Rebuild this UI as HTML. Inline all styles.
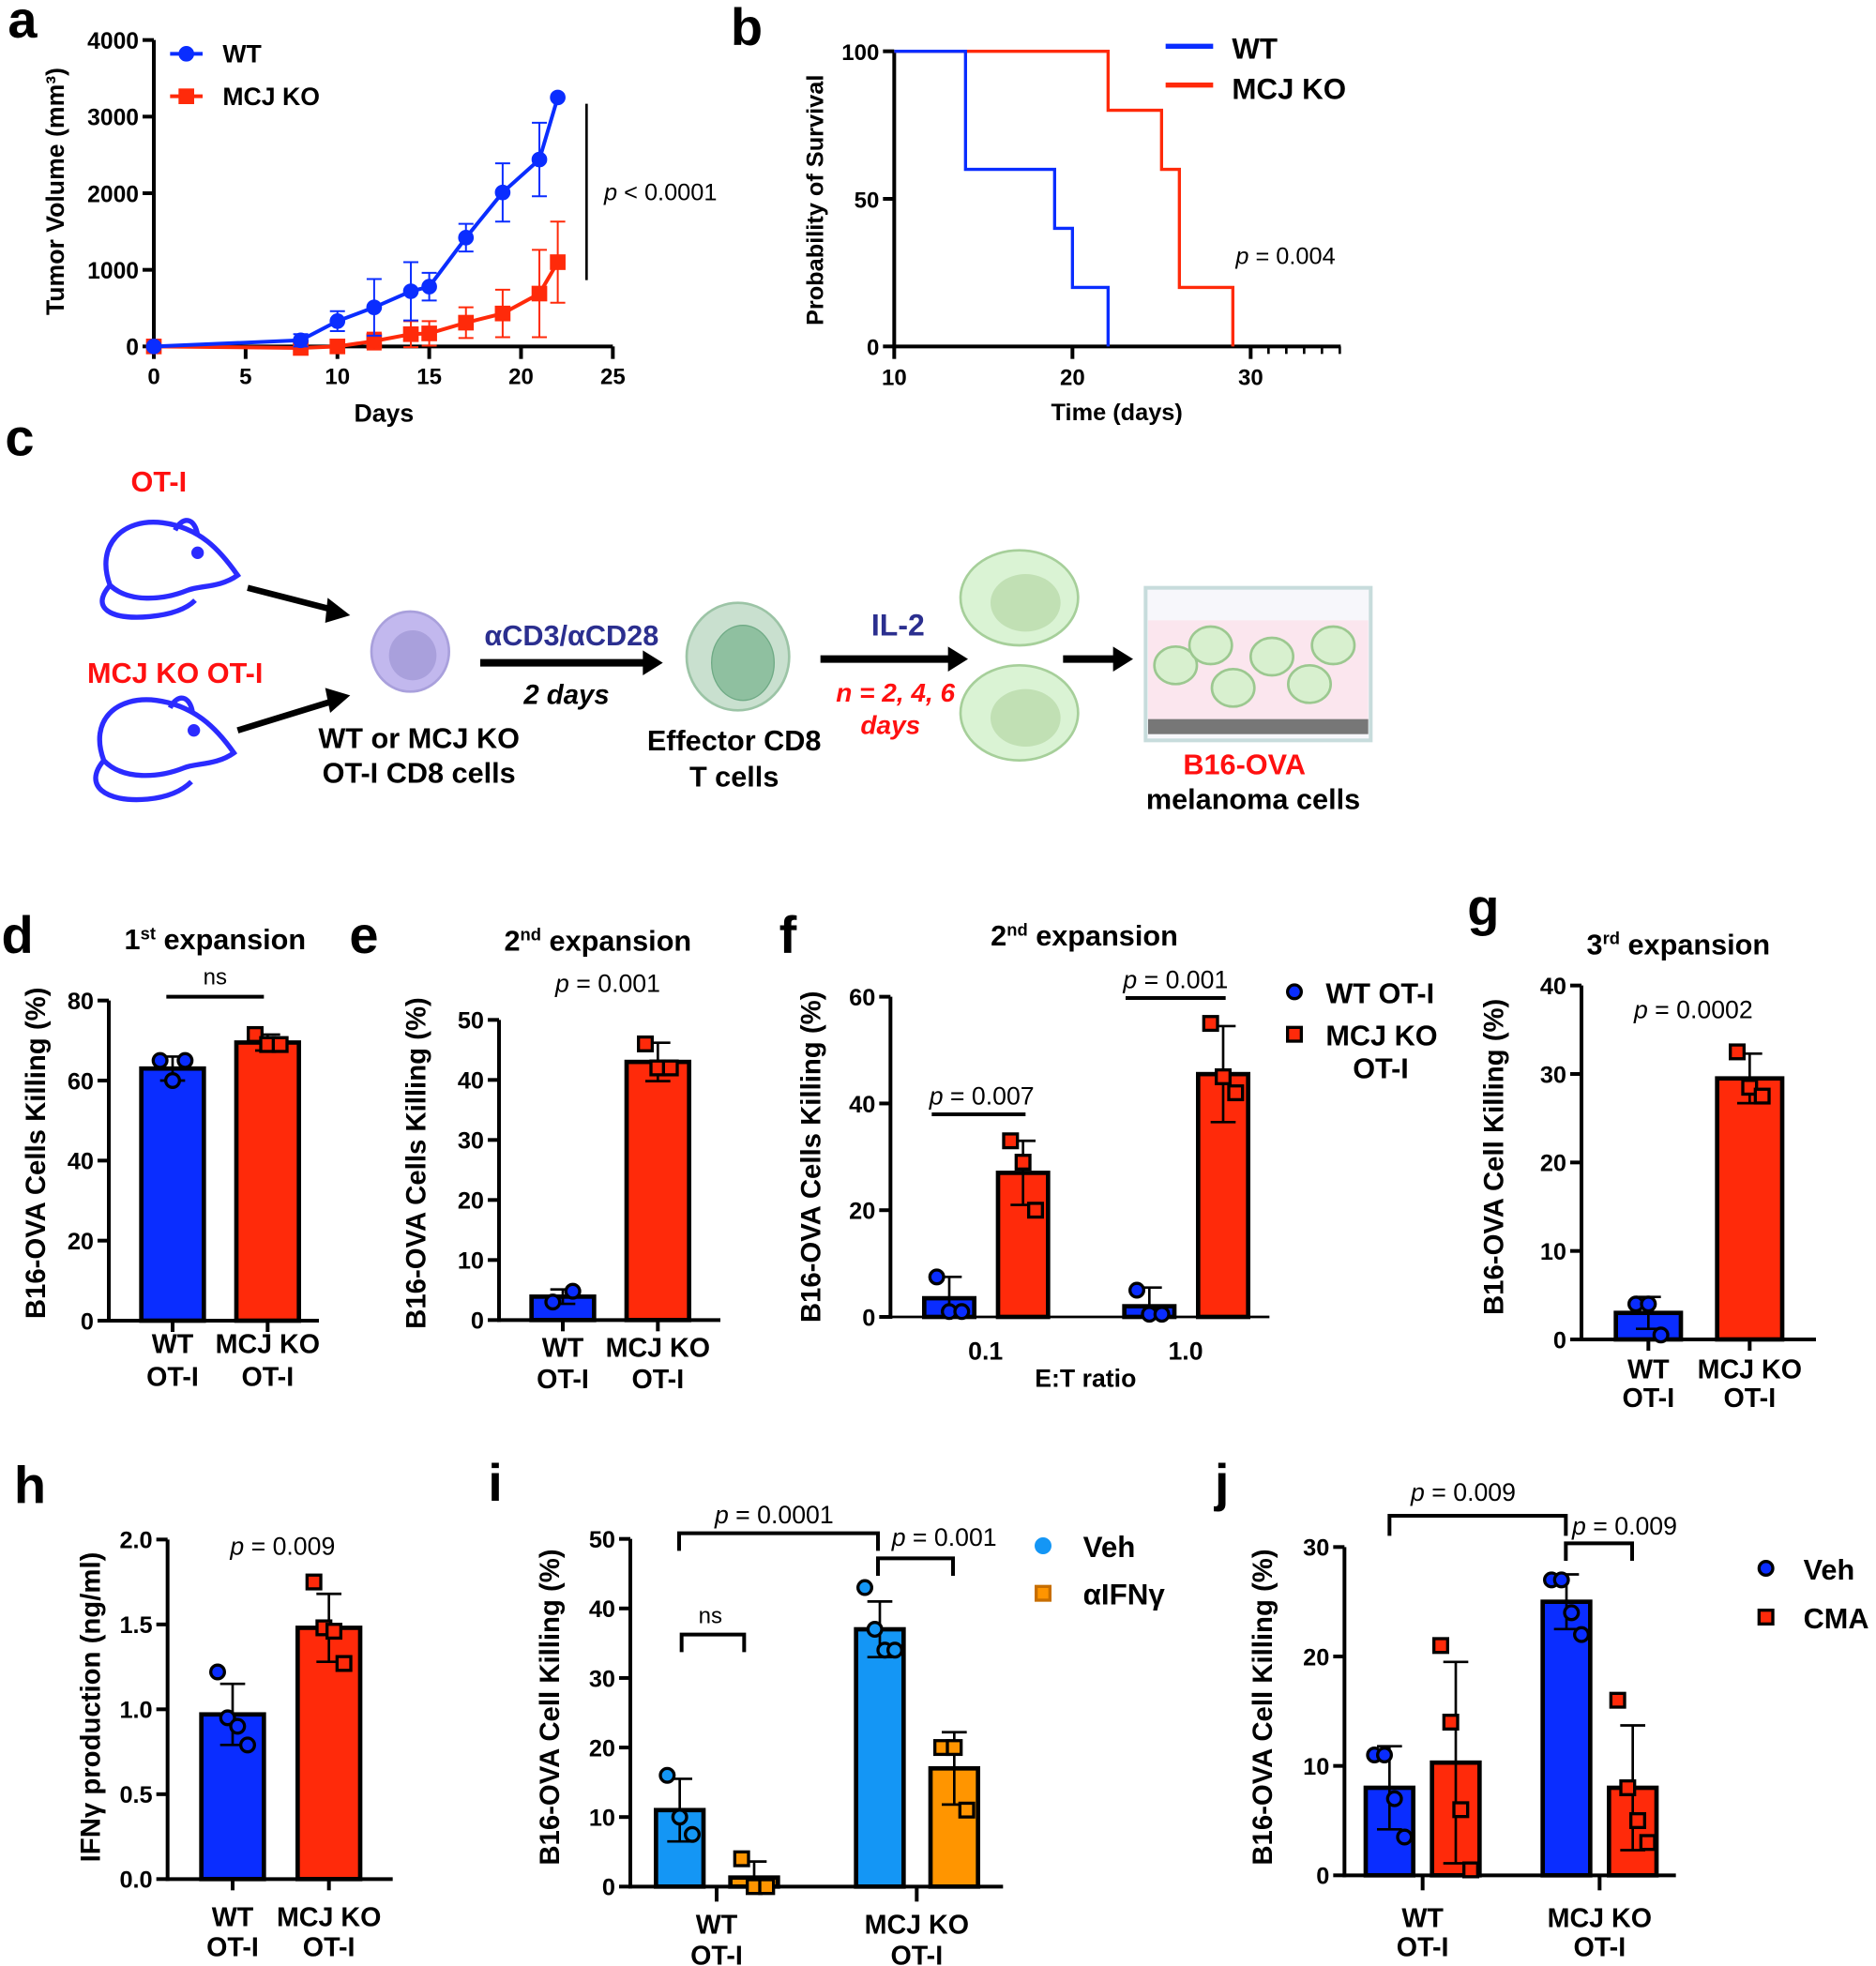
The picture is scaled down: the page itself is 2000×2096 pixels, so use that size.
<!DOCTYPE html>
<html><head><meta charset="utf-8"><style>
html,body{margin:0;padding:0;background:#fff}
svg{display:block}
text{font-family:"Liberation Sans",Arial,sans-serif;font-weight:bold}
</style></head><body>
<svg id="fig" width="2000" height="2096" viewBox="0 0 1500 1572" preserveAspectRatio="none" xmlns="http://www.w3.org/2000/svg">
<g id="diagram">
 <text x="4" y="364" font-size="42">c</text>
 <text x="127" y="393" font-size="23" fill="#ff1010" text-anchor="middle">OT-I</text>
 <text x="140" y="546" font-size="23" fill="#ff1010" text-anchor="middle">MCJ KO OT-I</text>
 <g fill="none" stroke="#2b2bff" stroke-width="4">
  <path d="M88,468 C76,436 98,414 130,418 C160,422 176,440 190,460 C176,470 160,468 150,472 C130,480 103,482 88,468 Z"/>
  <path d="M88,468 C72,486 88,496 120,493 C140,491 150,486 156,480"/>
  <path d="M140,424 C146,412 156,414 158,428"/>
  <circle cx="158" cy="442" r="3" fill="#2b2bff"/>
 </g>
 <g fill="none" stroke="#2b2bff" stroke-width="4">
  <path d="M83,608 C71,576 93,556 125,560 C155,564 173,582 187,602 C173,612 157,610 147,614 C127,622 98,624 83,608 Z"/>
  <path d="M83,608 C66,628 84,642 118,639 C138,637 148,630 153,625"/>
  <path d="M136,566 C142,554 152,556 154,570"/>
  <circle cx="155" cy="584" r="3" fill="#2b2bff"/>
 </g>
 <line x1="198" y1="470" x2="268" y2="488" stroke="#000" stroke-width="5"/>
 <polygon points="280,492 262,478 260,498"/>
 <line x1="190" y1="584" x2="268" y2="560" stroke="#000" stroke-width="5"/>
 <polygon points="280,556 260,550 264,570"/>
 <ellipse cx="328" cy="521" rx="31" ry="32" fill="#c2b8ee" stroke="#a9a0dc" stroke-width="2"/>
 <ellipse cx="330" cy="524" rx="19" ry="20" fill="#a9a0dc"/>
 <text x="457" y="516" font-size="23" fill="#2b2f8f" text-anchor="middle">αCD3/αCD28</text>
 <line x1="384" y1="530" x2="516" y2="530" stroke="#000" stroke-width="6"/>
 <polygon points="530,530 514,520 514,540"/>
 <text x="453" y="563" font-size="22" font-style="italic" text-anchor="middle">2 days</text>
 <text x="335" y="598" font-size="23" text-anchor="middle">WT or MCJ KO</text>
 <text x="335" y="626" font-size="23" text-anchor="middle">OT-I CD8 cells</text>
 <ellipse cx="590" cy="525" rx="41" ry="43" fill="#c9e0cf" stroke="#9cc4a6" stroke-width="2"/>
 <ellipse cx="594" cy="530" rx="25" ry="30" fill="#8fc0a0" stroke="#6faa85"/>
 <text x="587" y="600" font-size="23" text-anchor="middle">Effector CD8</text>
 <text x="587" y="629" font-size="23" text-anchor="middle">T cells</text>
 <text x="718" y="508" font-size="24" fill="#2b2f8f" text-anchor="middle">IL-2</text>
 <line x1="656" y1="527" x2="760" y2="527" stroke="#000" stroke-width="6"/>
 <polygon points="774,527 758,517 758,537"/>
 <text x="716" y="561" font-size="21" font-style="italic" fill="#ff1010" text-anchor="middle">n = 2, 4, 6</text>
 <text x="712" y="587" font-size="21" font-style="italic" fill="#ff1010" text-anchor="middle">days</text>
 <ellipse cx="815" cy="478" rx="47" ry="38" fill="#daf3d4" stroke="#a6cf9a" stroke-width="2"/>
 <ellipse cx="820" cy="482" rx="28" ry="23" fill="#c1e0b4"/>
 <ellipse cx="815" cy="570" rx="47" ry="38" fill="#daf3d4" stroke="#a6cf9a" stroke-width="2"/>
 <ellipse cx="820" cy="574" rx="28" ry="23" fill="#c1e0b4"/>
 <line x1="850" y1="527" x2="892" y2="527" stroke="#000" stroke-width="6"/>
 <polygon points="906,527 890,517 890,537"/>
 <g>
  <rect x="916" y="470" width="180" height="122" fill="#f7f7fb" stroke="#c7dcdc" stroke-width="3"/>
  <rect x="918" y="496" width="176" height="82" fill="#fbe6ee"/>
  <rect x="918" y="575" width="176" height="12" fill="#777"/>
  <g fill="#d8f0cf" stroke="#9cc890" stroke-width="2">
   <ellipse cx="940" cy="532" rx="17" ry="15"/><ellipse cx="968" cy="516" rx="17" ry="15"/>
   <ellipse cx="1017" cy="525" rx="17" ry="15"/><ellipse cx="1066" cy="516" rx="17" ry="15"/>
   <ellipse cx="986" cy="550" rx="17" ry="15"/><ellipse cx="1047" cy="547" rx="17" ry="15"/>
  </g>
 </g>
 <text x="995" y="619" font-size="23" fill="#ff1010" text-anchor="middle">B16-OVA</text>
 <text x="1002" y="647" font-size="23" text-anchor="middle">melanoma cells</text>
</g>
</svg>
<script>
// ---------- DATA ----------
// Panel a
const aDays = [0, 8, 10, 12, 14, 15, 17, 19, 21, 22];
const aWT = [0, 80, 330, 510, 720, 780, 1420, 2010, 2440, 3250];
const aWTerr = [0, 80, 130, 370, 380, 180, 180, 380, 480, 0];
const aKO = [0, -20, 0, 70, 160, 170, 310, 430, 690, 1100];
const aKOerr = [0, 0, 0, 110, 170, 160, 200, 310, 570, 530];
const aXTicks = [0, 5, 10, 15, 20, 25];
const aYTicks = [0, 1000, 2000, 3000, 4000];
// Panel b (survival steps)
const bWTtimes = [10, 14, 19, 20, 22];
const bWTsurv = [100, 60, 40, 20, 0];
const bKOtimes = [10, 22, 25, 26, 29];
const bKOsurv = [100, 80, 60, 20, 0];
const bXTicks = [10, 20, 30];
const bYTicks = [0, 50, 100];
// Panel d
const dGroups = ['WT', 'MCJ KO'];
const dMeans = [63, 69.5];
const dErr = [3, 2];
const dPts = [[65, 60, 65], [71.5, 69, 69]];
const dTicks = [0, 20, 40, 60, 80];
// Panel e
const eMeans = [3.9, 43];
const eErr = [1.2, 3.2];
const ePts = [[3, 4.8], [46, 42, 42]];
const eTicks = [0, 10, 20, 30, 40, 50];
// Panel f
const fRatios = ['0.1', '1.0'];
const fWT = [3.5, 2];
const fWTerr = [4, 3.5];
const fWTpts = [[7.5, 1, 1], [5, 0.5, 0.5]];
const fKO = [27, 45.5];
const fKOerr = [6, 9];
const fKOpts = [[33, 29, 20], [55, 45, 42]];
const fTicks = [0, 20, 40, 60];
// Panel g
const gMeans = [3, 29.5];
const gErr = [1.8, 2.8];
const gPts = [[4, 4, 0.5], [32.5, 28.5, 27.5]];
const gTicks = [0, 10, 20, 30, 40];
// Panel h
const hMeans = [0.97, 1.48];
const hErr = [0.18, 0.2];
const hPts = [[1.22, 0.95, 0.9, 0.79], [1.75, 1.48, 1.46, 1.27]];
const hTicks = [0, 0.5, 1.0, 1.5, 2.0];
const hTickLabels = ['0.0', '0.5', '1.0', '1.5', '2.0'];
// Panel i
const iVeh = [11, 37];
const iVehErr = [4.5, 4];
const iVehPts = [[16, 10, 7.5], [43, 37, 34, 34]];
const iIFN = [1.3, 17];
const iIFNerr = [2.3, 5.2];
const iIFNpts = [[4, 0, 0], [20, 20, 11]];
const iTicks = [0, 10, 20, 30, 40, 50];
// Panel j
const jVeh = [8, 25];
const jVehErr = [3.8, 2.5];
const jVehPts = [[11, 11, 7, 3.5], [27, 27, 24, 22]];
const jCMA = [10.3, 8];
const jCMAerr = [9.2, 5.7];
const jCMApts = [[21, 14, 6, 0.5], [16, 8, 5, 3]];
const jTicks = [0, 10, 20, 30];

// ---------- HELPERS ----------
const NS = 'http://www.w3.org/2000/svg';
const svg = document.getElementById('fig');
const BLUE = '#0a2dff', RED = '#ff2a0a', LBLUE = '#1496f5', ORANGE = '#ff9500';
const TICK = 19, YT = 22, XL = 21.5;
function mk(tag, attrs, name, parent) {
  const e = document.createElementNS(NS, tag);
  for (const k in attrs) e.setAttribute(k, attrs[k]);
  
  
  (parent || svg).appendChild(e);
  return e;
}
function line(x1, y1, x2, y2, name, w, c) {
  return mk('line', {x1, y1, x2, y2, stroke: c || '#000', 'stroke-width': w || 3}, name);
}
function txt(x, y, s, size, name, anchor, extra) {
  const a = Object.assign({x, y, 'font-size': size, 'text-anchor': anchor || 'middle'}, extra || {});
  const t = mk('text', a, name);
  t.textContent = s;
  return t;
}
function ptxt(x, y, rest, size, name, anchor) {
  const t = mk('text', {x, y, 'font-size': size, 'text-anchor': anchor || 'middle', style: 'font-weight:normal'}, name);
  const p = document.createElementNS(NS, 'tspan');
  p.setAttribute('font-style', 'italic');
  p.textContent = 'p';
  t.appendChild(p);
  t.appendChild(document.createTextNode(rest));
  return t;
}
function vlabel(x, y, s, size, name) {
  return txt(x, y, s, size, name, 'middle', {transform: `rotate(-90 ${x} ${y})`});
}
function sup(x, y, a, b, c, size, name) {
  const t = mk('text', {x, y, 'font-size': size, 'text-anchor': 'middle'}, name);
  t.appendChild(document.createTextNode(a));
  const s = document.createElementNS(NS, 'tspan');
  s.setAttribute('font-size', size * 0.6);
  s.setAttribute('dy', -8);
  s.textContent = b;
  t.appendChild(s);
  const r = document.createElementNS(NS, 'tspan');
  r.setAttribute('dy', 8);
  r.textContent = c;
  t.appendChild(r);
  return t;
}
function marker(x, y, shape, fill, name, r, stroke) {
  r = r || 6;
  if (shape === 'c') return mk('circle', {cx: x, cy: y, r, fill, stroke: stroke || '#000', 'stroke-width': 2.5}, name);
  return mk('rect', {x: x - r, y: y - r, width: 2 * r, height: 2 * r, fill, stroke: stroke || '#000', 'stroke-width': 2.5}, name);
}
function yaxis(x, y0, yTop, ticks, scale, labels, name, size) {
  line(x, y0 + 1.5, x, yTop, name + '-y-axis');
  ticks.forEach((t, i) => {
    const yy = scale(t);
    line(x - 9, yy, x, yy, name + '-y-tick');
    txt(x - 12, yy + 7, labels ? labels[i] : String(t), size || TICK, name + '-y-tick-label', 'end');
  });
}
function bar(cx, w, y0, yv, color, name) {
  return mk('rect', {x: cx - w / 2, y: Math.min(yv, y0), width: w, height: Math.abs(y0 - yv), fill: color, stroke: '#000', 'stroke-width': 3.5}, name);
}
function errbar(cx, ym, ye1, ye2, name, cw) {
  cw = cw || 10;
  line(cx, ye1, cx, ye2, name, 2);
  line(cx - cw, ye1, cx + cw, ye1, name + '-cap', 2);
  line(cx - cw, ye2, cx + cw, ye2, name + '-cap', 2);
}
const OFFS = {1: [0], 2: [-8, 8], 3: [-10, 0, 10], 4: [-12, -4, 4, 12]};
function pts(cx, vals, scale, shape, color, name) {
  const o = OFFS[vals.length];
  vals.forEach((v, i) => marker(cx + o[i], scale(v), shape, color, name, 5.5));
}
function bracket(x1, x2, y, drop, name) {
  mk('path', {d: `M${x1},${y + drop} V${y} H${x2} V${y + drop}`, fill: 'none', stroke: '#000', 'stroke-width': 3}, name);
}

// ---------- PANEL A ----------
(function () {
  const X = d => 123 + d * 14.68, Y = v => 277 - v * 0.06125;
  txt(18, 30, 'a', 42, 'panel-label-a', 'middle');
  yaxis(123, 277, 32, aYTicks, Y, null, 'panel-a', 18.5);
  line(121.5, 277, 490, 277, 'panel-a-x-axis');
  aXTicks.forEach(t => { line(X(t), 277, X(t), 287, 'panel-a-x-tick'); txt(X(t), 307, String(t), 18, 'panel-a-x-tick-label'); });
  txt(307, 337, 'Days', 20, 'panel-a-x-axis-title');
  vlabel(51, 153, 'Tumor Volume (mm³)', 20, 'panel-a-y-axis-title');
  [[aKO, aKOerr, RED, 's', 'ko'], [aWT, aWTerr, BLUE, 'c', 'wt']].forEach(([m, e, c, sh, nm]) => {
    aDays.forEach((d, i) => {
      if (e[i] > 0) {
        line(X(d), Y(m[i] - e[i]), X(d), Y(m[i] + e[i]), 'panel-a-errbar-' + nm, 1.5, c);
        line(X(d) - 6, Y(m[i] + e[i]), X(d) + 6, Y(m[i] + e[i]), 'panel-a-errcap-' + nm, 1.5, c);
        line(X(d) - 6, Y(m[i] - e[i]), X(d) + 6, Y(m[i] - e[i]), 'panel-a-errcap-' + nm, 1.5, c);
      }
    });
    mk('polyline', {points: aDays.map((d, i) => X(d) + ',' + Y(m[i])).join(' '), fill: 'none', stroke: c, 'stroke-width': 3}, 'panel-a-line-' + nm);
    aDays.forEach((d, i) => marker(X(d), Y(m[i]), sh, c, 'panel-a-point-' + nm, 5, c));
  });
  line(136, 43, 162, 43, 'legend-a-wt-line', 3, BLUE); marker(149, 43, 'c', BLUE, 'legend-a-wt-marker', 5, BLUE);
  txt(178, 50, 'WT', 20, 'legend-a-wt-label', 'start');
  line(136, 77, 162, 77, 'legend-a-ko-line', 3, RED); marker(149, 77, 's', RED, 'legend-a-ko-marker', 5, RED);
  txt(178, 84, 'MCJ KO', 20, 'legend-a-ko-label', 'start');
  line(469, 83, 469, 224, 'panel-a-significance-bar', 2);
  ptxt(483, 160, ' < 0.0001', 19, 'panel-a-p-value', 'start');
})();

// ---------- PANEL B ----------
(function () {
  const X = d => 715 + (d - 10) * 14.25, Y = v => 277 - v * 2.36;
  txt(597, 36, 'b', 42, 'panel-label-b');
  yaxis(715, 277, 41, bYTicks, Y, null, 'panel-b', 18);
  line(713.5, 277, 1072, 277, 'panel-b-x-axis');
  bXTicks.forEach(t => { line(X(t), 277, X(t), 287, 'panel-b-x-tick'); txt(X(t), 308, String(t), 18, 'panel-b-x-tick-label'); });
  for (let d = 31; d <= 35; d++) line(X(d), 277, X(d), 283, 'panel-b-x-minor-tick', 2);
  txt(893, 336, 'Time (days)', 19, 'panel-b-x-axis-title');
  vlabel(658, 160, 'Probability of Survival', 19, 'panel-b-y-axis-title');
  function steps(t, s) {
    let d = `M${X(t[0])},${Y(s[0])}`;
    for (let i = 1; i < t.length; i++) d += ` H${X(t[i])} V${Y(s[i])}`;
    return d;
  }
  mk('path', {d: steps(bKOtimes, bKOsurv), fill: 'none', stroke: RED, 'stroke-width': 2.5}, 'panel-b-ko-curve');
  mk('path', {d: steps(bWTtimes, bWTsurv), fill: 'none', stroke: BLUE, 'stroke-width': 2.5}, 'panel-b-wt-curve');
  line(932, 37, 970, 37, 'legend-b-wt-line', 4, BLUE); txt(985, 47, 'WT', 23.5, 'legend-b-wt-label', 'start');
  line(932, 68, 970, 68, 'legend-b-ko-line', 4, RED); txt(985, 79, 'MCJ KO', 23.5, 'legend-b-ko-label', 'start');
  ptxt(988, 211, ' = 0.004', 19, 'panel-b-p-value', 'start');
})();

// ---------- generic 2-bar panel ----------
function twoBar(o) {
  const Y = v => o.y0 - v * o.ppu;
  txt(o.lx, o.ly, o.letter, 42, 'panel-label-' + o.letter);
  yaxis(o.ax, o.y0, o.yTop, o.ticks, Y, o.tickLabels, 'panel-' + o.letter, TICK);
  line(o.ax - 1.5, o.y0, o.xEnd, o.y0, 'panel-' + o.letter + '-x-axis', 3);
  const colors = [BLUE, RED], shapes = ['c', 's'];
  o.cx.forEach((cx, i) => {
    bar(cx, o.w, o.y0, Y(o.means[i]), colors[i], 'panel-' + o.letter + '-bar-' + (i ? 'ko' : 'wt'));
    errbar(cx, Y(o.means[i]), Y(o.means[i] + o.err[i]), Y(Math.max(0, o.means[i] - o.err[i])), 'panel-' + o.letter + '-errbar');
    pts(cx, o.pts[i], Y, shapes[i], colors[i], 'panel-' + o.letter + '-point');
    line(cx, o.y0, cx, o.y0 + 9, 'panel-' + o.letter + '-x-tick');
    txt(cx, o.xl1, o.lab1[i], XL, 'panel-' + o.letter + '-x-label');
    txt(cx, o.xl2, 'OT-I', XL, 'panel-' + o.letter + '-x-label-2');
  });
  vlabel(o.ylx, o.yly, o.ytitle, YT, 'panel-' + o.letter + '-y-axis-title');
}
twoBar({letter: 'd', lx: 14, ly: 762, ax: 87, y0: 1056, yTop: 800, ppu: 3.2, ticks: dTicks, xEnd: 255,
  cx: [138, 214], w: 50, means: dMeans, err: dErr, pts: dPts, xl1: 1082, xl2: 1108, lab1: ['WT', 'MCJ KO'],
  ylx: 36, yly: 922, ytitle: 'B16-OVA Cells Killing (%)'});
sup(172, 759, '1', 'st', ' expansion', 23, 'panel-d-title');
line(133, 797, 211, 797, 'panel-d-ns-line', 3);
txt(172, 787, 'ns', 18, 'panel-d-ns-label', 'middle', {style: 'font-weight:normal'});

twoBar({letter: 'e', lx: 291, ly: 762, ax: 399, y0: 1055.5, yTop: 815.5, ppu: 4.8, ticks: eTicks, xEnd: 576,
  cx: [450, 526], w: 50, means: eMeans, err: eErr, pts: ePts, xl1: 1085, xl2: 1110, lab1: ['WT', 'MCJ KO'],
  ylx: 340, yly: 930, ytitle: 'B16-OVA Cells Killing (%)'});
sup(478, 760, '2', 'nd', ' expansion', 23, 'panel-e-title');
ptxt(486, 793, ' = 0.001', 20, 'panel-e-p-value');

twoBar({letter: 'g', lx: 1186, ly: 740, ax: 1264.5, y0: 1071, yTop: 788, ppu: 7.075, ticks: gTicks, xEnd: 1452,
  cx: [1318, 1399], w: 52, means: gMeans, err: gErr, pts: gPts, xl1: 1102, xl2: 1125, lab1: ['WT', 'MCJ KO'],
  ylx: 1202, yly: 925, ytitle: 'B16-OVA Cell Killing (%)'});
sup(1342, 763, '3', 'rd', ' expansion', 23, 'panel-g-title');
ptxt(1354, 814, ' = 0.0002', 20, 'panel-g-p-value');

twoBar({letter: 'h', lx: 24, ly: 1202, ax: 134, y0: 1502.5, yTop: 1231, ppu: 135.75, ticks: hTicks, tickLabels: hTickLabels, xEnd: 314,
  cx: [186, 263], w: 50, means: hMeans, err: hErr, pts: hPts, xl1: 1540, xl2: 1564, lab1: ['WT', 'MCJ KO'],
  ylx: 80, yly: 1365, ytitle: 'IFNγ production (ng/ml)'});
ptxt(226, 1243, ' = 0.009', 20, 'panel-h-p-value');

// ---------- PANEL F ----------
(function () {
  const y0 = 1053, Y = v => y0 - v * 4.267;
  txt(630, 762, 'f', 42, 'panel-label-f');
  yaxis(712, y0, 797, fTicks, Y, null, 'panel-f', TICK);
  line(710.5, y0, 1015, y0, 'panel-f-x-axis', 2);
  const centers = [788, 948];
  fRatios.forEach((r, i) => {
    const cw = centers[i] - 29, ck = centers[i] + 30;
    bar(cw, 40, y0, Y(fWT[i]), BLUE, 'panel-f-bar-wt');
    errbar(cw, 0, Y(fWT[i] + fWTerr[i]), Y(Math.max(0, fWT[i] - fWTerr[i])), 'panel-f-errbar');
    pts(cw, fWTpts[i], Y, 'c', BLUE, 'panel-f-point-wt');
    bar(ck, 40, y0, Y(fKO[i]), RED, 'panel-f-bar-ko');
    errbar(ck, 0, Y(fKO[i] + fKOerr[i]), Y(fKO[i] - fKOerr[i]), 'panel-f-errbar');
    pts(ck, fKOpts[i], Y, 's', RED, 'panel-f-point-ko');
    txt(centers[i], 1087, r, 20, 'panel-f-x-label');
  });
  txt(868, 1109, 'E:T ratio', 20, 'panel-f-x-axis-title');
  sup(867, 756, '2', 'nd', ' expansion', 23, 'panel-f-title');
  line(745, 891, 820, 891, 'panel-f-sig-line-01', 3); ptxt(785, 883, ' = 0.007', 20, 'panel-f-p-value-01');
  line(900, 798, 980, 798, 'panel-f-sig-line-10', 3); ptxt(940, 790, ' = 0.001', 20, 'panel-f-p-value-10');
  marker(1035, 793, 'c', BLUE, 'legend-f-wt-marker', 5.5);
  txt(1060, 802, 'WT OT-I', 23, 'legend-f-wt-label', 'start');
  marker(1035, 827, 's', RED, 'legend-f-ko-marker', 5.5);
  txt(1060, 836, 'MCJ KO', 23, 'legend-f-ko-label', 'start');
  txt(1104, 862, 'OT-I', 23, 'legend-f-ko-label-2');
  vlabel(656, 925, 'B16-OVA Cells Killing (%)', YT, 'panel-f-y-axis-title');
})();

// ---------- PANEL I ----------
(function () {
  const y0 = 1508.5, Y = v => y0 - v * 5.56;
  txt(396, 1200, 'i', 42, 'panel-label-i');
  yaxis(504, y0, 1230.5, iTicks, Y, null, 'panel-i', TICK);
  line(502.5, y0, 802, y0, 'panel-i-x-axis', 3);
  const centers = [573, 733], labs = ['WT', 'MCJ KO'];
  centers.forEach((c, i) => {
    const cv = c - 29.5, ci = c + 30;
    bar(cv, 38, y0, Y(iVeh[i]), LBLUE, 'panel-i-bar-veh');
    errbar(cv, 0, Y(iVeh[i] + iVehErr[i]), Y(Math.max(0, iVeh[i] - iVehErr[i])), 'panel-i-errbar');
    pts(cv, iVehPts[i], Y, 'c', LBLUE, 'panel-i-point-veh');
    bar(ci, 38, y0, Y(iIFN[i]), ORANGE, 'panel-i-bar-aifng');
    errbar(ci, 0, Y(iIFN[i] + iIFNerr[i]), Y(Math.max(0, iIFN[i] - iIFNerr[i])), 'panel-i-errbar');
    pts(ci, iIFNpts[i], Y, 's', ORANGE, 'panel-i-point-aifng');
    line(c, y0, c, y0 + 12, 'panel-i-x-tick');
    txt(c, 1546, labs[i], XL, 'panel-i-x-label');
    txt(c, 1571, 'OT-I', XL, 'panel-i-x-label-2');
  });
  bracket(543, 702, 1226, 14, 'panel-i-bracket-veh');
  ptxt(619, 1218, ' = 0.0001', 20, 'panel-i-p-value-veh');
  bracket(702, 762, 1246, 14, 'panel-i-bracket-ko');
  ptxt(755, 1236, ' = 0.001', 20, 'panel-i-p-value-ko');
  bracket(545, 595, 1307, 14, 'panel-i-bracket-wt');
  txt(568, 1298, 'ns', 18, 'panel-i-ns-label', 'middle', {style: 'font-weight:normal'});
  marker(834, 1236, 'c', LBLUE, 'legend-i-veh-marker', 5.5, LBLUE);
  txt(866, 1245, 'Veh', 23.5, 'legend-i-veh-label', 'start');
  marker(834, 1274, 's', ORANGE, 'legend-i-aifng-marker', 5.5, '#c76e00');
  txt(866, 1283, 'αIFNγ', 23.5, 'legend-i-aifng-label', 'start');
  vlabel(447, 1365, 'B16-OVA Cell Killing (%)', YT, 'panel-i-y-axis-title');
})();

// ---------- PANEL J ----------
(function () {
  const y0 = 1499.5, Y = v => y0 - v * 8.75;
  txt(977, 1200, 'j', 42, 'panel-label-j');
  yaxis(1075, y0, 1237, jTicks, Y, null, 'panel-j', TICK);
  line(1073.5, y0, 1340, y0, 'panel-j-x-axis', 3);
  const centers = [1137.5, 1279], labs = ['WT', 'MCJ KO'];
  centers.forEach((c, i) => {
    const cv = c - 26.5, cc = c + 26.5;
    bar(cv, 38, y0, Y(jVeh[i]), BLUE, 'panel-j-bar-veh');
    errbar(cv, 0, Y(jVeh[i] + jVehErr[i]), Y(Math.max(0, jVeh[i] - jVehErr[i])), 'panel-j-errbar');
    pts(cv, jVehPts[i], Y, 'c', BLUE, 'panel-j-point-veh');
    bar(cc, 38, y0, Y(jCMA[i]), RED, 'panel-j-bar-cma');
    errbar(cc, 0, Y(jCMA[i] + jCMAerr[i]), Y(Math.max(0, jCMA[i] - jCMAerr[i])), 'panel-j-errbar');
    pts(cc, jCMApts[i], Y, 's', RED, 'panel-j-point-cma');
    line(c, y0, c, y0 + 12, 'panel-j-x-tick');
    txt(c, 1541, labs[i], XL, 'panel-j-x-label');
    txt(c, 1564, 'OT-I', XL, 'panel-j-x-label-2');
  });
  bracket(1111, 1252, 1212, 16, 'panel-j-bracket-veh');
  ptxt(1170, 1200, ' = 0.009', 20, 'panel-j-p-value-veh');
  bracket(1252, 1305, 1234, 14, 'panel-j-bracket-ko');
  ptxt(1299, 1227, ' = 0.009', 20, 'panel-j-p-value-ko');
  marker(1412, 1254, 'c', BLUE, 'legend-j-veh-marker', 5.5);
  txt(1442, 1263, 'Veh', 23, 'legend-j-veh-label', 'start');
  marker(1412, 1293, 's', RED, 'legend-j-cma-marker', 5.5);
  txt(1442, 1302, 'CMA', 23, 'legend-j-cma-label', 'start');
  vlabel(1017, 1365, 'B16-OVA Cell Killing (%)', YT, 'panel-j-y-axis-title');
})();
</script>
</body></html>
